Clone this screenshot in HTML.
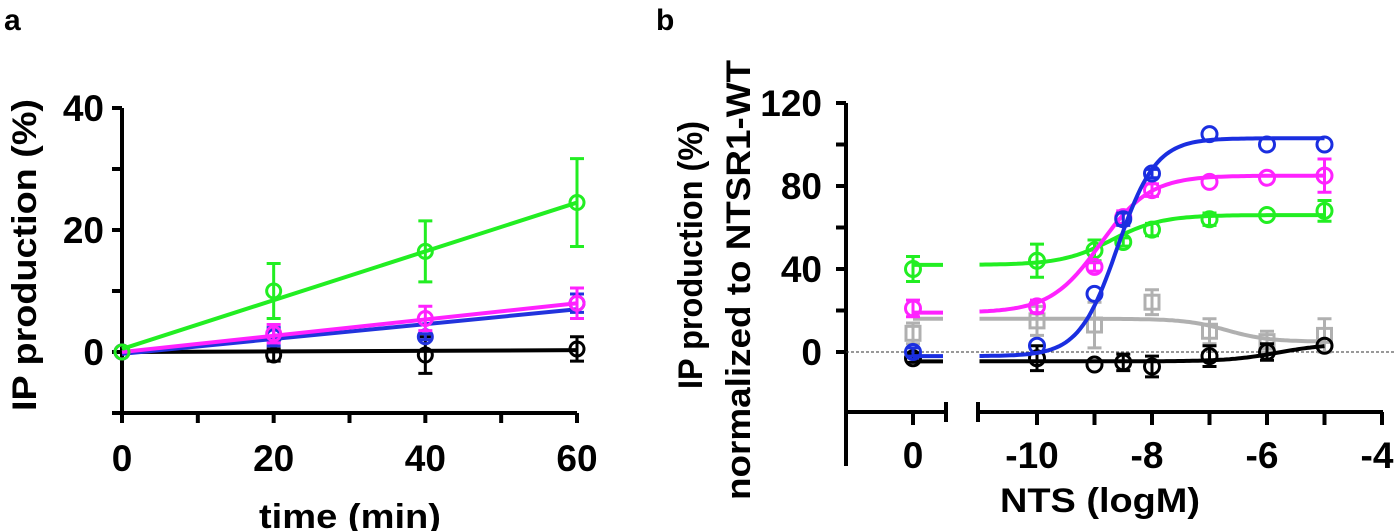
<!DOCTYPE html>
<html><head><meta charset="utf-8"><style>
html,body{margin:0;padding:0;background:#fff;}
svg{display:block;font-family:"Liberation Sans",Arial,sans-serif;font-weight:bold;}
</style></head><body>
<svg id="fig" width="1395" height="531" viewBox="0 0 1395 531" xmlns="http://www.w3.org/2000/svg">
<text x="4" y="30" font-size="30">a</text>
<text x="656" y="30" font-size="30">b</text>
<text transform="translate(36,255) rotate(-90)" text-anchor="middle" font-size="34" textLength="312" lengthAdjust="spacingAndGlyphs">IP production (%)</text>
<text x="350" y="528" text-anchor="middle" font-size="34" textLength="182" lengthAdjust="spacingAndGlyphs">time (min)</text>
<text transform="translate(702,255) rotate(-90)" text-anchor="middle" font-size="34" textLength="268" lengthAdjust="spacingAndGlyphs">IP production (%)</text>
<text transform="translate(750,280) rotate(-90)" text-anchor="middle" font-size="34" textLength="440" lengthAdjust="spacingAndGlyphs">normalized to NTSR1-WT</text>
<text x="1100" y="512" text-anchor="middle" font-size="34" textLength="200" lengthAdjust="spacingAndGlyphs">NTS (logM)</text>
<g id="ga"></g><g id="gb"></g>
</svg>
<script>
// ---- Panel a data ----
const timeCats = [0, 20, 40, 60];
const aGreen = [0, 10, 16.5, 24.5];
const aGreenErr = [0, 4.5, 5, 7.2];
const aMagenta = [0, 3, 5.5, 8];
const aMagentaErr = [0, 1.5, 2, 2.5];
const aBlue = [0, 2.5, 2.5, 8];
const aBlueErr = [0, 1.5, 0.5, 1.5];
const aBlack = [0, -0.5, -0.5, 0.5];
const aBlackErr = [0, 1, 3, 2];
const aFitGreen = [0.5, 24.5];
const aFitMagenta = [0, 8];
const aFitBlue = [-0.3, 7];
const aFitBlack = [0, 0.3];
const aYTicks = [40, 20, 0];
const aXTicks = [0, 20, 40, 60];

// ---- Panel b data ----
const logCats = [0, -10, -9, -8.5, -8, -7, -6, -5]; // 0 = no ligand (break)
const bBlue = [0, 3, 28, 64, 86, 105, 100, 100];
const bBlueErr = [2, 1, 1, 3, 2, 1, 1, 1];
const bMagenta = [21, 22, 41, 65, 78, 82, 84, 85];
const bMagentaErr = [4, 3, 2, 3, 3, 1, 1, 8];
const bGreen = [40, 44, 49, 53, 59, 64, 66, 68];
const bGreenErr = [6, 8, 5, 2, 3, 3, 1, 5];
const bGray = [9, 15, 13, null, 24, 10, 5, 8];
const bGrayErr = [5, 7, 11, 0, 6, 6, 5, 8];
const bBlack = [-3, -3, -6, -5, -7, -2, 0, 3];
const bBlackErr = [2, 6, 1, 4, 5, 5, 4, 1];
// sigmoid fits: bottom, top, logEC50, hill
const fitBlue = [-2, 103, -8.6, 1.3];
const fitMagenta = [19, 85, -8.9, 1.0];
const fitGreen = [42, 66, -8.7, 1.0];
const fitGray = [16, 5, -6.7, 1.2];
const fitBlack = [-4.5, 4, -5.8, 1.0];
const bYTicks = [120, 80, 40, 0];
const bYMinor = [100, 60, 20];
const bXTicks = [-10, -8, -6, -4];
const bXMinor = [-9, -7, -5];

const NS = "http://www.w3.org/2000/svg";
function mk(parent, tag, attrs){const e=document.createElementNS(NS,tag);for(const k in attrs)e.setAttribute(k,attrs[k]);parent.appendChild(e);return e;}

// ---------- Panel A ----------
const ga = document.getElementById('ga');
const ax = v => 122 + v * (577-122)/60;
const ay = v => 352 - v * (352-108)/40;
let e;
e = mk(ga,'line',{x1:122,y1:108,x2:122,y2:423,stroke:'#000','stroke-width':4});


e = mk(ga,'line',{x1:122,y1:413,x2:577,y2:413,stroke:'#000','stroke-width':4});


[40,30,20,10,0,-10].forEach(v=>{
  e = mk(ga,'line',{x1:112,y1:ay(v),x2:122,y2:ay(v),stroke:'#000','stroke-width':4});
  
  
});
aYTicks.forEach(v=>{
  e = mk(ga,'text',{x:104,y:ay(v)+13,'text-anchor':'end','font-size':37});
  e.textContent = v;
  
  
});
[0,10,20,30,40,50,60].forEach(v=>{
  e = mk(ga,'line',{x1:ax(v),y1:413,x2:ax(v),y2:423,stroke:'#000','stroke-width':4});
  
  
});
aXTicks.forEach(v=>{
  e = mk(ga,'text',{x:ax(v),y:471,'text-anchor':'middle','font-size':37});
  e.textContent = v;
  
  
});
function aSeries(vals, errs, fit, color, name){
  const g = mk(ga,'g',{});
  
  
  e = mk(g,'line',{x1:ax(0),y1:ay(fit[0]),x2:ax(60),y2:ay(fit[1]),stroke:color,'stroke-width':4});
  
  
  vals.forEach((v,i)=>{
    const x=ax(timeCats[i]), y=ay(v), t=ay(v+errs[i]), b=ay(v-errs[i]);
    if(errs[i]>0){
      e = mk(g,'path',{d:`M${x},${t}V${b}M${x-7},${t}H${x+7}M${x-7},${b}H${x+7}`,stroke:color,'stroke-width':3,fill:'none'});
      
      
    }
    e = mk(g,'circle',{cx:x,cy:y,r:7,fill:'#fff',stroke:color,'stroke-width':3,'fill-opacity':0});
    
    
  });
}
aSeries(aBlack,aBlackErr,aFitBlack,'#000','black');
aSeries(aBlue,aBlueErr,aFitBlue,'#2233dd','blue');
aSeries(aMagenta,aMagentaErr,aFitMagenta,'#ff22ff','magenta');
aSeries(aGreen,aGreenErr,aFitGreen,'#22ee22','green');

// ---------- Panel B ----------
const gb = document.getElementById('gb');
const bx = v => v===0 ? 913 : 1152 + (v+8) * (1267-1152)/2;
const by = v => 352 - v * (352-103)/120;
e = mk(gb,'line',{x1:846,y1:103,x2:846,y2:466,stroke:'#000','stroke-width':4});


e = mk(gb,'path',{d:'M846,412H946M946,402V422M978,402V422M978,412H1383',stroke:'#000','stroke-width':4,fill:'none'});


e = mk(gb,'line',{x1:846,y1:by(0),x2:1395,y2:by(0),stroke:'#333','stroke-width':1,'stroke-dasharray':'3,2'});


bYTicks.concat(bYMinor).forEach(v=>{
  e = mk(gb,'line',{x1:836,y1:by(v),x2:846,y2:by(v),stroke:'#000','stroke-width':4});
  
  
});
bYTicks.forEach(v=>{
  e = mk(gb,'text',{x:822,y:by(v)+13,'text-anchor':'end','font-size':37});
  e.textContent = v;
  
  
});
[0].concat(bXTicks,bXMinor).forEach(v=>{
  e = mk(gb,'line',{x1:bx(v),y1:412,x2:bx(v),y2:425,stroke:'#000','stroke-width':4});
  
  
});
[0].concat(bXTicks).forEach(v=>{
  e = mk(gb,'text',{x:bx(v)-(v<0?5:0),y:468,'text-anchor':'middle','font-size':37});
  e.textContent = v;
  
  
});
function sig(p,x){return p[0]+(p[1]-p[0])/(1+Math.pow(10,(p[2]-x)*p[3]));}
function bSeries(vals, errs, fit, color, name, square){
  const g = mk(gb,'g',{});
  
  
  let d='';
  for(let x=-11;x<=-5.0001;x+=0.05){d+=(d?'L':'M')+bx(x).toFixed(1)+','+by(sig(fit,x)).toFixed(1);}
  d+='L'+bx(-5)+','+by(sig(fit,-5)).toFixed(1);
  e = mk(g,'path',{d:d,stroke:color,'stroke-width':4,fill:'none'});
  
  
  const b0 = by(sig(fit,-14));
  e = mk(g,'line',{x1:bx(0),y1:b0,x2:bx(0)+30,y2:b0,stroke:color,'stroke-width':4});
  
  
  vals.forEach((v,i)=>{
    if(v===null) return;
    const x=bx(logCats[i]), y=by(v), t=by(v+errs[i]), b=by(v-errs[i]);
    if(errs[i]>1.5){
      e = mk(g,'path',{d:`M${x},${t}V${b}M${x-7},${t}H${x+7}M${x-7},${b}H${x+7}`,stroke:color,'stroke-width':3,fill:'none'});
      
      
    }
    if(square){
      e = mk(g,'rect',{x:x-7,y:y-7,width:14,height:14,fill:'none',stroke:color,'stroke-width':3});
    } else {
      e = mk(g,'circle',{cx:x,cy:y,r:7.5,fill:'none',stroke:color,'stroke-width':3});
    }
    
    
  });
}
bSeries(bGray,bGrayErr,fitGray,'#b0b0b0','gray',true);
bSeries(bBlack,bBlackErr,fitBlack,'#000','black',false);
bSeries(bGreen,bGreenErr,fitGreen,'#22ee22','green',false);
bSeries(bMagenta,bMagentaErr,fitMagenta,'#ff22ff','magenta',false);
bSeries(bBlue,bBlueErr,fitBlue,'#1a2ee0','blue',false);
</script>
</body></html>
